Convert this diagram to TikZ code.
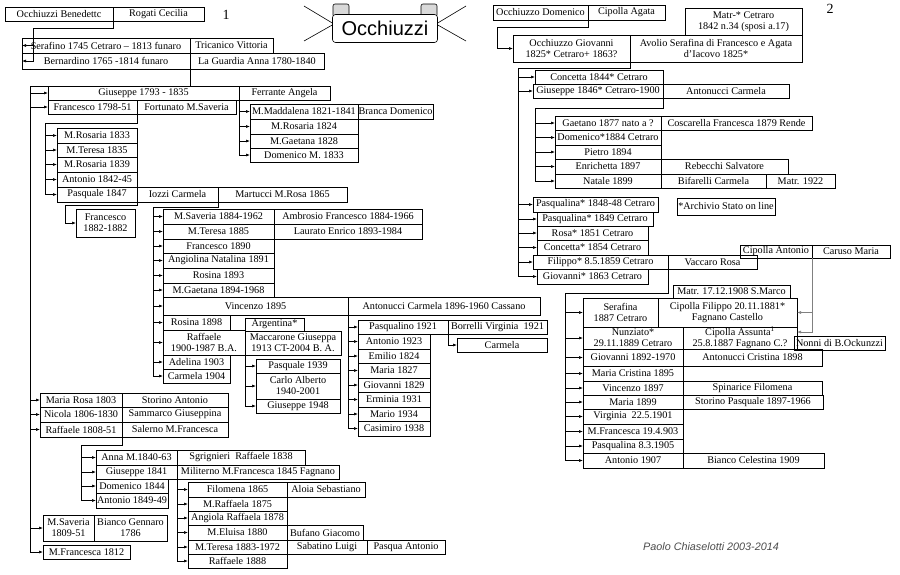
\documentclass[tikz,border=0pt]{standalone}
\usepackage{fontspec}
\setmainfont{Liberation Serif}
\newfontfamily\sansf{Liberation Sans}
\usetikzlibrary{arrows.meta}
\newcommand{\bx}[6]{\node[bx, minimum width={#4pt-#2pt}, minimum height={#5pt-#3pt}] (#1) at (#2,#3) {#6};}
\tikzset{
  bx/.style={draw=black, line width=0.6pt, anchor=north west, inner sep=0pt, outer sep=0pt, align=center, font=\fontsize{10.2}{11}\selectfont},
  ln/.style={draw=black, line width=0.6pt},
  arr/.style={ln, -{Latex[length=4pt,width=3pt]}},
  num/.style={font=\fontsize{14}{14}\selectfont},
  ribbon/.style={draw=black, line width=0.6pt},
}
\begin{document}
\begin{tikzpicture}[x=1pt,y=-1pt]
\useasboundingbox (0,0) rectangle (900,574);
\fill[white] (0,0) rectangle (900,574);
% ---------- banner
\draw[ribbon] (304,6) -- (334,24) -- (304,41);
\draw[ribbon] (466,6) -- (436,24) -- (466,41);
\draw[ribbon, fill=gray!30, rounded corners=2pt] (333,4) rectangle (349,17);
\draw[ribbon, fill=gray!30, rounded corners=2pt] (421,4) rectangle (437,17);
\node[ribbon, fill=white, rounded corners=3pt, minimum width=105pt, minimum height=28pt, inner sep=0pt, font=\sansf\fontsize{20}{20}\selectfont] (title) at (385,28.5) {Occhiuzzi};
\node[num] (n1) at (226,15) {1};
\node[num] (n2) at (830,9) {2};
% ---------- left tree
\bx{b1}{5}{7}{113}{21}{Occhiuzzi Benedettc}
\bx{b1s}{113}{7}{204}{21}{Rogati Cecilia}
\bx{serafino}{22}{38}{190}{53}{Serafino 1745 Cetraro -- 1813 funaro}
\bx{serafinos}{190}{38}{273}{53}{Tricanico Vittoria}
\bx{bernardino}{22}{53}{190}{69}{Bernardino 1765 -1814 funaro}
\bx{bernardinos}{190}{53}{324}{69}{La Guardia Anna 1780-1840}
\bx{giuseppe}{48}{86}{239}{100}{Giuseppe 1793 - 1835}
\bx{giuseppes}{239}{86}{330}{100}{Ferrante Angela}
\bx{francesco}{48}{100}{137}{114}{Francesco 1798-51}
\bx{francescos}{137}{100}{236}{114}{Fortunato M.Saveria}
\bx{madd}{250}{104}{358}{119}{M.Maddalena 1821-1841}
\bx{madds}{358}{104}{433}{119}{Branca Domenico}
\bx{mros24}{250}{119}{358}{134}{M.Rosaria 1824}
\bx{mgae28}{250}{134}{358}{148}{M.Gaetana 1828}
\bx{domm}{250}{148}{358}{162}{Domenico M. 1833}
\bx{mros33}{57}{128}{137}{143}{M.Rosaria 1833}
\bx{mter35}{57}{143}{137}{157}{M.Teresa 1835}
\bx{mros39}{57}{157}{137}{172}{M.Rosaria 1839}
\bx{anto42}{57}{172}{137}{187}{Antonio 1842-45}
\bx{pasq47}{57}{187}{137}{202}{Pasquale 1847}
\bx{iozzi}{137}{187}{218}{202}{Iozzi Carmela}
\bx{martucci}{218}{187}{347}{202}{Martucci M.Rosa 1865}
\bx{fr82}{76}{209}{135}{237}{Francesco\\1882-1882}
\bx{msav84}{163}{209}{274}{224}{M.Saveria 1884-1962}
\bx{ambrosio}{274}{209}{422}{224}{Ambrosio Francesco 1884-1966}
\bx{mter85}{163}{224}{274}{239}{M.Teresa 1885}
\bx{laurato}{274}{224}{422}{239}{Laurato Enrico 1893-1984}
\bx{fra90}{163}{239}{274}{253}{Francesco 1890}
\bx{angi}{163}{253}{274}{268}{Angiolina Natalina 1891}
\bx{ros93}{163}{268}{274}{283}{Rosina 1893}
\bx{mgae94}{163}{283}{274}{297}{M.Gaetana 1894-1968}
\bx{vinc}{163}{297}{348}{315}{Vincenzo 1895}
\bx{antonucci}{348}{297}{540}{315}{Antonucci Carmela 1896-1960 Cassano}
\bx{ros98}{163}{315}{230}{330}{Rosina 1898}
\bx{argentina}{245}{318}{304}{331}{Argentina*}
\bx{raff}{163}{330}{245}{355}{Raffaele\\1900-1987 B.A.}
\bx{macc}{245}{331}{341}{355}{Maccarone Giuseppa\\1913 CT-2004 B. A.}
\bx{adel}{163}{355}{230}{369}{Adelina 1903}
\bx{carm04}{163}{369}{230}{383}{Carmela 1904}
\bx{pas39}{256}{359}{340}{373}{Pasquale 1939}
\bx{carlo}{256}{373}{340}{399}{Carlo Alberto\\1940-2001}
\bx{giu48}{256}{399}{340}{413}{Giuseppe 1948}
\bx{pas21}{358}{320}{448}{334}{Pasqualino 1921}
\bx{borrelli}{448}{320}{547}{334}{Borrelli Virginia\ \ 1921}
\bx{carmela}{457}{338}{547}{352}{Carmela}
\bx{ant23}{358}{334}{430}{349}{Antonio 1923}
\bx{emi}{358}{349}{430}{363}{Emilio 1824}
\bx{mar27}{358}{363}{430}{378}{Maria 1827}
\bx{gio29}{358}{378}{430}{392}{Giovanni 1829}
\bx{erm}{358}{392}{430}{407}{Erminia 1931}
\bx{mar34}{358}{407}{430}{421}{Mario 1934}
\bx{cas}{358}{421}{430}{436}{Casimiro 1938}
\bx{mros03}{40}{393}{122}{407}{Maria Rosa 1803}
\bx{storino}{122}{393}{228}{407}{Storino Antonio}
\bx{nicola}{40}{407}{122}{422}{Nicola 1806-1830}
\bx{sammarco}{122}{407}{228}{422}{Sammarco Giuseppina}
\bx{raff08}{40}{422}{122}{437}{Raffaele 1808-51}
\bx{salerno}{122}{422}{228}{437}{Salerno M.Francesca}
\bx{anna}{96}{450}{177}{465}{Anna M.1840-63}
\bx{sgrig}{177}{450}{305}{465}{Sgrignieri\ \ Raffaele 1838}
\bx{giu41}{96}{465}{177}{479}{Giuseppe 1841}
\bx{militerno}{177}{465}{339}{479}{Militerno M.Francesca 1845 Fagnano}
\bx{dom44}{96}{479}{168}{493}{Domenico 1844}
\bx{ant49}{96}{493}{168}{508}{Antonio 1849-49}
\bx{filo}{188}{482}{287}{497}{Filomena 1865}
\bx{aloia}{287}{482}{365}{497}{Aloia Sebastiano}
\bx{mraf}{188}{497}{287}{511}{M.Raffaela 1875}
\bx{angiola}{188}{511}{287}{525}{Angiola Raffaela 1878}
\bx{meluisa}{188}{525}{287}{540}{M.Eluisa 1880}
\bx{bufano}{287}{525}{363}{540}{Bufano Giacomo}
\bx{mter83}{188}{540}{287}{554}{M.Teresa 1883-1972}
\bx{sabatino}{287}{540}{367}{554}{Sabatino Luigi}
\bx{pasqua}{367}{540}{445}{554}{Pasqua Antonio}
\bx{raf88}{188}{554}{287}{568}{Raffaele 1888}
\bx{msav09}{43}{515}{94}{541}{M.Saveria\\1809-51}
\bx{bianco}{94}{515}{167}{541}{Bianco Gennaro\\1786}
\bx{mfra12}{43}{545}{130}{559}{M.Francesca 1812}
% ---------- right tree
\bx{domenico}{493}{5}{588}{20}{Occhiuzzo Domenico}
\bx{cipagata}{588}{5}{665}{20}{Cipolla Agata}
\bx{matr42}{685}{8}{802}{35}{Matr-* Cetraro\\1842 n.34 (sposi a.17)}
\bx{giovanni}{513}{35}{630}{62}{Occhiuzzo Giovanni\\1825* Cetraro+ 1863?}
\bx{avolio}{630}{35}{802}{62}{Avolio Serafina di Francesco e Agata\\d'Iacovo 1825*}
\bx{conc44}{535}{70}{663}{84}{Concetta 1844* Cetraro}
\bx{giu46}{533}{84}{663}{98}{Giuseppe 1846* Cetraro-1900}
\bx{antcarm}{663}{84}{789}{98}{Antonucci Carmela}
\bx{gaet}{555}{116}{661}{130}{Gaetano 1877 nato a ?}
\bx{cosca}{661}{116}{812}{130}{Coscarella Francesca 1879 Rende}
\bx{dom84}{555}{130}{661}{145}{Domenico*1884 Cetraro}
\bx{piet}{555}{145}{661}{159}{Pietro 1894}
\bx{enri}{555}{159}{661}{174}{Enrichetta 1897}
\bx{rebe}{661}{159}{788}{174}{Rebecchi Salvatore}
\bx{nat}{555}{174}{661}{188}{Natale 1899}
\bx{bifa}{661}{174}{766}{188}{Bifarelli Carmela}
\bx{matr22}{766}{174}{835}{188}{Matr. 1922}
\bx{pasq48}{533}{197}{658}{212}{Pasqualina* 1848-48 Cetraro}
\bx{archivio}{677}{198}{775}{215}{*Archivio Stato on line}
\bx{pasq49}{537}{212}{653}{226}{Pasqualina* 1849 Cetraro}
\bx{rosa51}{537}{226}{648}{240}{Rosa* 1851 Cetraro}
\bx{conc54}{537}{240}{648}{255}{Concetta* 1854 Cetraro}
\bx{cipant}{740}{245}{812}{258}{Cipolla Antonio}
\bx{caruso}{812}{245}{890}{258}{Caruso Maria}
\bx{filippo}{533}{255}{668}{269}{Filippo* 8.5.1859 Cetraro}
\bx{vaccaro}{668}{255}{757}{269}{Vaccaro Rosa}
\bx{gio63}{537}{269}{648}{284}{Giovanni* 1863 Cetraro}
\bx{matr08}{673}{285}{790}{298}{Matr. 17.12.1908 S.Marco}
\bx{seraf}{583}{298}{658}{327}{Serafina\\1887 Cetraro}
\bx{cipfil}{658}{298}{797}{327}{Cipolla Filippo 20.11.1881*\\Fagnano Castello}
\bx{nunz}{583}{327}{683}{349}{Nunziato*\\29.11.1889 Cetraro}
\bx{cipass}{683}{327}{797}{349}{Cipolla Assunta\textsuperscript{1}\\25.8.1887 Fagnano C.?}
\bx{nonni}{794}{336}{885}{350}{Nonni di B.Ockunzzi}
\bx{gio92}{583}{349}{683}{366}{Giovanni 1892-1970}
\bx{antcri}{683}{349}{822}{366}{Antonucci Cristina 1898}
\bx{mcri}{583}{366}{683}{381}{Maria Cristina 1895}
\bx{vin97}{583}{381}{683}{395}{Vincenzo 1897}
\bx{spin}{683}{381}{822}{395}{Spinarice Filomena}
\bx{mar99}{583}{395}{683}{409}{Maria 1899}
\bx{storp}{683}{395}{823}{409}{Storino Pasquale 1897-1966}
\bx{virg}{583}{409}{683}{424}{Virginia\ \ 22.5.1901}
\bx{mfra}{583}{424}{683}{439}{M.Francesca 19.4.903}
\bx{pasq05}{583}{439}{683}{453}{Pasqualina 8.3.1905}
\bx{ant07}{583}{453}{683}{468}{Antonio 1907}
\bx{bianco09}{683}{453}{824}{468}{Bianco Celestina 1909}
\node[font=\sansf\itshape\fontsize{10.8}{12}\selectfont, text=black!70] (sig) at (711,547) {Paolo Chiaselotti 2003-2014};
% ---------- connectors left
\coordinate (c1) at (33,28);
\draw[ln] (b1.south east) |- (c1);
\foreach \t in {serafino,bernardino} \draw[arr] (c1) |- (\t.west);
\coordinate (c2) at (30,86);
\draw[ln] (bernardino.south east) |- (c2);
\foreach \t in {giuseppe,francesco,mros03,nicola,raff08,msav09,mfra12} \draw[arr] (c2) |- (\t.west);
\foreach \t in {madd,mros24,mgae28,domm} \draw[arr] (giuseppe.south east) |- (\t.west);
\coordinate (c3) at (45,123);
\draw[ln] (francesco.south east) |- (c3);
\foreach \t in {mros33,mter35,mros39,anto42,pasq47} \draw[arr] (c3) |- (\t.west);
\coordinate (c4) at (65,205);
\draw[ln] (pasq47.south east) |- (c4);
\draw[arr] (c4) |- (fr82.west);
\coordinate (c5) at (153,207);
\draw[ln] (iozzi.south east) |- (c5);
\foreach \t in {msav84,mter85,fra90,angi,ros93,mgae94,vinc,ros98,raff,adel,carm04} \draw[arr] (c5) |- (\t.west);
\foreach \t in {pas39,carlo,giu48} \draw[arr] (raff.south east) |- (\t.west);
\foreach \t in {pas21,ant23,emi,mar27,gio29,erm,mar34,cas} \draw[arr] (vinc.south east) |- (\t.west);
\draw[arr] (pas21.south east) |- (carmela.west);
\coordinate (c7) at (81,445);
\draw[ln] (raff08.south east) |- (c7);
\foreach \t in {anna,giu41,dom44,ant49} \draw[arr] (c7) |- (\t.west);
\foreach \t in {filo,mraf,angiola,meluisa,mter83,raf88} \draw[arr] (giu41.south east) |- (\t.west);
% ---------- connectors right
\coordinate (c8) at (497,27);
\draw[ln] (domenico.south east) |- (c8);
\draw[arr] (c8) |- (giovanni.west);
\coordinate (c9) at (518,68);
\draw[ln] (giovanni.south east) |- (c9);
\foreach \t in {conc44,giu46,pasq48,pasq49,rosa51,conc54,filippo,gio63} \draw[arr] (c9) |- (\t.west);
\coordinate (c10) at (535,108);
\draw[ln] (giu46.south east) |- (c10);
\foreach \t in {gaet,dom84,piet,enri,nat} \draw[arr] (c10) |- (\t.west);
\coordinate (c11) at (565,293);
\draw[ln] (filippo.south east) |- (c11);
\foreach \t in {seraf,nunz,gio92,mcri,vin97,mar99,virg,mfra,pasq05,ant07} \draw[arr] (c11) |- (\t.west);
\draw[arr, draw=gray] (cipant.south east) |- (cipfil.east);
\draw[arr, draw=gray] (cipant.south east) |- ([yshift=6pt]cipass.east);
\end{tikzpicture}
\end{document}
